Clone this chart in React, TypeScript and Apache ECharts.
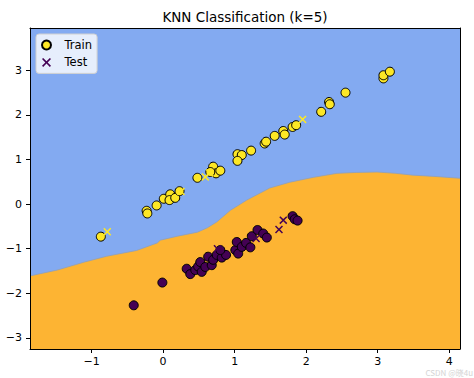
import React, { useEffect, useRef } from 'react';
import * as echarts from 'echarts';

const xTicks = [-1, 0, 1, 2, 3, 4];
const yTicks = [-3, -2, -1, 0, 1, 2, 3];
const xRange = [-1.86, 4.15];
const yRange = [-3.25, 3.95];

// decision boundary (class 0 region below)
const boundaryX = [-1.86, -1.48, -1.1, -0.79, -0.37, -0.08, -0.04, 0.2, 0.48, 0.62, 0.75, 0.94, 1.17, 1.49, 1.77, 2.1, 2.43, 2.7, 2.99, 3.25, 3.49, 3.8, 4.15];
const boundaryY = [-1.61, -1.48, -1.3, -1.17, -1.04, -0.87, -0.81, -0.72, -0.63, -0.53, -0.4, -0.14, 0.09, 0.36, 0.49, 0.6, 0.69, 0.71, 0.72, 0.69, 0.65, 0.62, 0.58];

const trainClass1 = [
  [-0.87, -0.73], [-0.23, -0.15], [-0.22, -0.21], [-0.09, -0.03], [0.01, 0.12], [0.1, 0.22],
  [0.09, 0.09], [0.17, 0.14], [0.23, 0.29], [0.48, 0.59], [0.7, 0.84], [0.74, 0.69], [0.8, 0.75],
  [0.66, 0.72], [1.04, 1.12], [1.1, 1.1], [1.04, 0.97], [1.23, 1.2], [1.42, 1.36], [1.44, 1.4],
  [1.56, 1.53], [1.68, 1.64], [1.7, 1.56], [1.81, 1.73], [1.86, 1.77], [2.21, 2.07], [2.32, 2.29],
  [2.33, 2.24], [2.55, 2.5], [3.08, 2.82], [3.08, 2.89], [3.17, 2.97],
];
const trainClass0 = [
  [-0.41, -2.27], [-0.01, -1.76], [0.33, -1.45], [0.38, -1.57], [0.45, -1.48], [0.49, -1.4],
  [0.52, -1.3], [0.54, -1.52], [0.59, -1.41], [0.63, -1.18], [0.68, -1.37], [0.7, -1.25],
  [0.75, -1.14], [0.82, -1.2], [0.88, -1.14], [0.8, -1.03], [1.01, -1.03], [1.03, -0.85],
  [1.05, -1.11], [1.1, -0.96], [1.16, -0.87], [1.22, -0.97], [1.24, -0.72], [1.32, -0.58],
  [1.4, -0.66], [1.45, -0.75], [1.81, -0.27], [1.84, -0.34], [1.88, -0.37],
];
const testClass1 = [[-0.78, -0.62], [0.25, 0.28], [0.59, 0.61], [0.65, 0.7], [1.95, 1.9]];
const testClass0 = [[0.76, -1.0], [1.3, -0.77], [1.62, -0.57], [1.68, -0.36]];

const BLUE = '#83aaf1';
const ORANGE = '#fdb433';
const YELLOW = '#fde725';
const PURPLE = '#440154';
const FONT = 'DejaVu Sans';
const XMARK = 'path://M1.3,0L5,3.7L8.7,0L10,1.3L6.3,5L10,8.7L8.7,10L5,6.3L1.3,10L0,8.7L3.7,5L0,1.3Z';

const fmt = (v: number) => (v < 0 ? '\u2212' + Math.abs(v) : String(v));

export default function App() {
  const ref = useRef<HTMLDivElement>(null);
  useEffect(() => {
    if (!ref.current) return;
    const chart = echarts.init(ref.current, undefined, { renderer: 'svg' });
    const axisCommon = {
      type: 'value' as const,
      splitLine: { show: false },
      axisLine: { show: true, onZero: false, lineStyle: { color: '#000', width: 1 } },
      z: 10,
    };
    chart.setOption({
      animation: false,
      backgroundColor: '#fff',
      grid: { left: 30, right: 14, top: 28, bottom: 29, show: true, backgroundColor: BLUE, borderWidth: 0 },
      xAxis: [
        {
          ...axisCommon,
          min: xRange[0], max: xRange[1],
          axisTick: { show: true, customValues: xTicks, length: 4, lineStyle: { color: '#000' } },
          axisLabel: { customValues: xTicks, formatter: fmt, color: '#000', fontSize: 11, fontFamily: FONT, margin: 7 },
        },
        {
          ...axisCommon, position: 'top',
          min: xRange[0], max: xRange[1],
          axisTick: { show: false }, axisLabel: { show: false },
        },
      ],
      yAxis: [
        {
          ...axisCommon,
          min: yRange[0], max: yRange[1],
          axisTick: { show: true, customValues: yTicks, length: 4, lineStyle: { color: '#000' } },
          axisLabel: { customValues: yTicks, formatter: fmt, color: '#000', fontSize: 11, fontFamily: FONT, margin: 8 },
        },
        {
          ...axisCommon, position: 'right',
          min: yRange[0], max: yRange[1],
          axisTick: { show: false }, axisLabel: { show: false },
        },
      ],
      legend: {
        orient: 'vertical',
        left: 36, top: 34,
        data: ['Train', 'Test'],
        backgroundColor: 'rgba(255,255,255,0.8)',
        borderColor: '#d0d0d0', borderWidth: 1, borderRadius: 3,
        padding: [5, 5, 5, 5],
        itemWidth: 22, itemHeight: 9, itemGap: 5.4,
        textStyle: { fontSize: 11.5, fontFamily: FONT, color: '#000', lineHeight: 12, padding: [0, 0, 0, 2] },
      },
      graphic: [
        {
          type: 'text', x: 245, y: 17, z: 100,
          style: { text: 'KNN Classification (k=5)', fill: '#000', font: `13.5px "${FONT}"`, textAlign: 'center', textVerticalAlign: 'middle' },
        },
        {
          type: 'text', right: 1, bottom: 2, z: 100,
          style: { text: 'CSDN @晓4u', fill: '#d4d4d4', font: '8px "Noto Sans CJK SC"' },
        },
      ],
      series: [
        {
          type: 'line',
          data: boundaryX.map((x, i) => [x, boundaryY[i]]),
          symbol: 'none', silent: true, z: 1,
          lineStyle: { color: '#8e9fbb', width: 0.8 },
          areaStyle: { color: ORANGE, opacity: 1, origin: 'start' },
        },
        {
          name: 'Train', type: 'scatter', data: trainClass1, symbolSize: 9, z: 5,
          itemStyle: { color: YELLOW, borderColor: '#000', borderWidth: 1, opacity: 1 },
        },
        {
          name: 'Train', type: 'scatter', data: trainClass0, symbolSize: 9, z: 5,
          itemStyle: { color: PURPLE, borderColor: '#000', borderWidth: 1, opacity: 1 },
        },
        {
          name: 'Test', type: 'scatter', data: testClass0, symbol: XMARK, symbolSize: 8, z: 6,
          itemStyle: { color: PURPLE, opacity: 1 },
        },
        {
          name: 'Test', type: 'scatter', data: testClass1, symbol: XMARK, symbolSize: 8, z: 6,
          itemStyle: { color: YELLOW, opacity: 1 },
        },
      ],
    });
    return () => chart.dispose();
  }, []);
  return <div ref={ref} style={{ position: 'absolute', left: 0, top: 0, width: 474, height: 378 }} />;
}
